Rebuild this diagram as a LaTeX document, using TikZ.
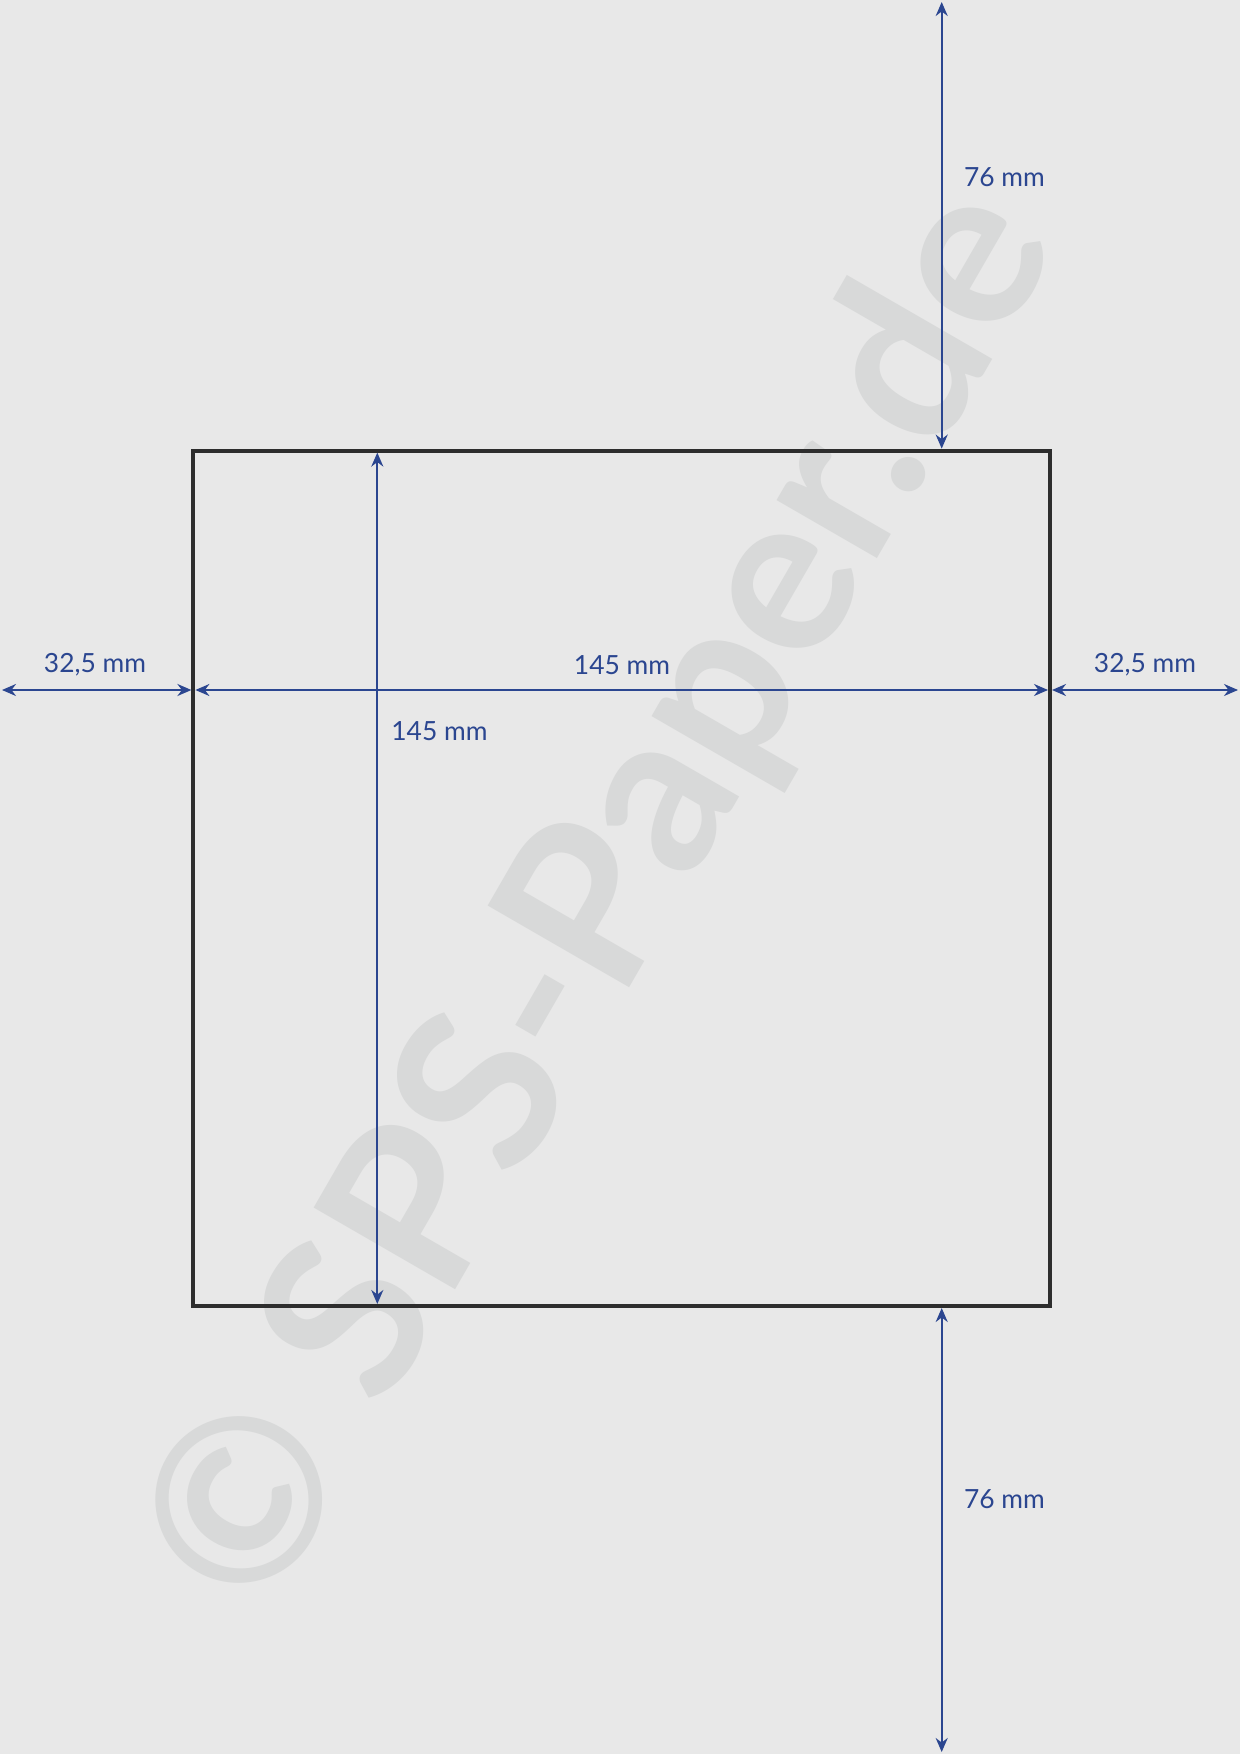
\documentclass[tikz,border=0pt]{standalone}
\usepackage{fontspec}
\setmainfont{Lato}
\usetikzlibrary{arrows.meta}
\definecolor{bg}{HTML}{E8E8E8}
\definecolor{dimblue}{HTML}{2B4690}
\definecolor{frame}{HTML}{2D2D2D}
\definecolor{mark}{HTML}{D8D9D9}
\begin{document}
\begin{tikzpicture}[x=0.5pt,y=-0.5pt]
		\tikzstyle{dim}=[draw=dimblue, line width=1pt, {Stealth[length=7pt,width=6pt]}-{Stealth[length=7pt,width=6pt]}, shorten <=1pt, shorten >=1pt]
		\tikzstyle{label}=[text=dimblue, font=\fontsize{13.2}{15}\selectfont, inner sep=1pt]
		\tikzstyle{plate}=[draw=frame, line width=2pt, minimum width=428.3pt, minimum height=427.7pt, inner sep=0pt]

		\fill[bg] (0,0) rectangle (1240,1754);
		\useasboundingbox (0,0) rectangle (1240,1754);

		% watermark
		\node [text=mark, rotate=60, font=\bfseries\fontsize{113}{113}\selectfont] (wm) at (605,900) {© SPS-Paper.de};

		\begin{scope}
			\node [plate] (sq) at (621.7,878.3) {};

			\coordinate (lft) at (0,690);
			\coordinate (rgt) at (1240,690);
			\coordinate (sql) at (193.4,690);
			\coordinate (sqr) at (1050,690);
			\coordinate (top) at (941.7,0);
			\coordinate (sqt) at (941.7,450.6);
			\coordinate (sqb) at (941.7,1306);
			\coordinate (bot) at (941.7,1754);
			\coordinate (int) at (377.3,450.6);
			\coordinate (inb) at (377.3,1306);

			\draw [dim] (lft) -- (sql);
			\draw [dim] (sql) -- (sqr);
			\draw [dim] (sqr) -- (rgt);
			\draw [dim] (top) -- (sqt);
			\draw [dim] (sqb) -- (bot);
			\draw [dim] (int) -- (inb);

			\node [label] (l1) at (95,665) {32,5 mm};
			\node [label] (l2) at (622,665) {145 mm};
			\node [label] (l3) at (1145,665) {32,5 mm};
			\node [label, anchor=west] (l4) at (389,731) {145 mm};
			\node [label] (l5) at (1004.5,177) {76 mm};
			\node [label] (l6) at (1004.5,1499.5) {76 mm};
		\end{scope}
\end{tikzpicture}
\end{document}
